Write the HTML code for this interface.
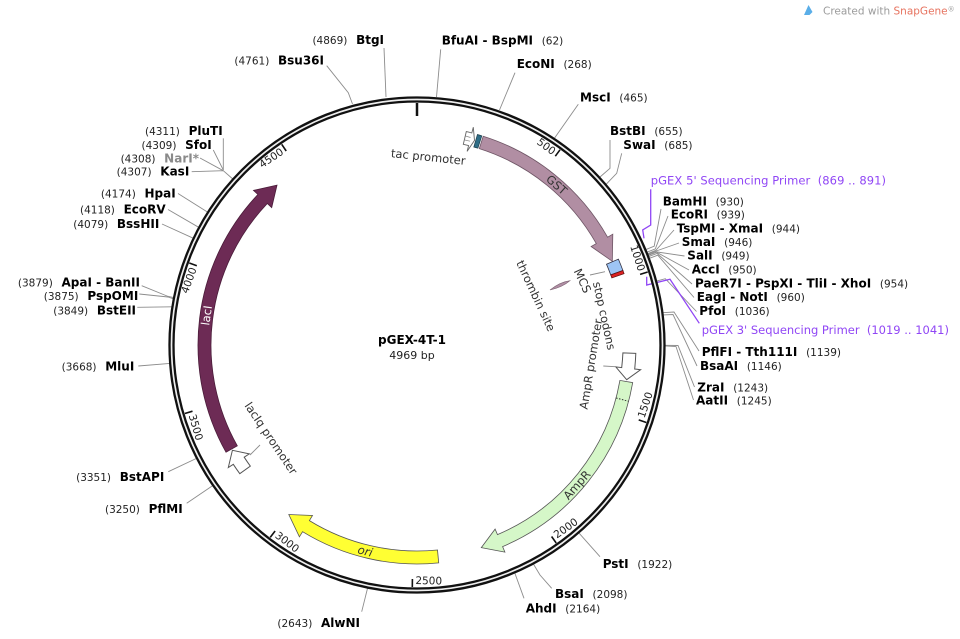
<!DOCTYPE html>
<html><head><meta charset="utf-8"><style>
html,body{margin:0;padding:0;background:#fff;}
svg{display:block;}
text{font-family:"DejaVu Sans","Liberation Sans",sans-serif;}
.n{font-size:10.5px;fill:#222;font-weight:normal;}
.b{font-size:12px;font-weight:bold;fill:#000;}
.g{font-size:12px;font-weight:bold;fill:#8a8a8a;}
.f{font-size:11.5px;fill:#333;}
.t{font-size:10.5px;fill:#222;}
.p{font-size:11.5px;fill:#9046f5;}
.ln{fill:none;stroke:#8c8c8c;stroke-width:0.9;}
.pl{fill:none;stroke:#9046f5;stroke-width:1.3;}
</style></head><body>
<svg width="960" height="639" viewBox="0 0 960 639" xmlns="http://www.w3.org/2000/svg">
<rect width="960" height="639" fill="#fff"/>

<!-- credit -->
<polygon points="804,15 808.5,5 812.5,12 809.5,15" fill="#5aaee8"/>
<text x="823" y="14.5" font-size="10.5" fill="#9b9b9b">Created with <tspan fill="#e7735f">SnapGene</tspan><tspan font-size="7" dy="-3">®</tspan></text>

<!-- leader lines -->
<polyline class="ln" points="384,48 386,97"/>
<polyline class="ln" points="326.7,65.7 348.3,92.7 352.5,104"/>
<polyline class="ln" points="440.7,49.3 436.5,97"/>
<polyline class="ln" points="515,72.7 499.5,110"/>
<polyline class="ln" points="578.3,104.3 554.6,138"/>
<polyline class="ln" points="610,140 610,168.3 600,177"/>
<polyline class="ln" points="621.7,153.3 616.7,173.3 606,184.4"/>

<polyline class="ln" points="661,209 654.2,246.2 645.9,249.6"/>
<polyline class="ln" points="668,216 655.3,248.9 647,252.2"/>
<polyline class="ln" points="674,230 655.9,250.3 647.6,253.7"/>
<polyline class="ln" points="679,243 656.2,251 647.8,254.3"/>
<polyline class="ln" points="684.5,256 656.5,251.9 648.2,255.2"/>
<polyline class="ln" points="689,270 656.6,252.2 648.3,255.4"/>
<polyline class="ln" points="692,284 657.1,253.4 648.7,256.6"/>
<polyline class="ln" points="694,297.5 657.8,255.2 649.4,258.3"/>
<polyline class="ln" points="696.5,311.5 665.3,278.7 656.6,281.1"/>
<polyline class="ln" points="699,351 674,312 662.9,312.7"/>
<polyline class="ln" points="697,366 673,314.5 663.2,314.9"/>
<polyline class="ln" points="694.5,387 678,345.5 665,345.3"/>
<polyline class="ln" points="693.5,400 676,346.5 665,345.9"/>

<polyline class="ln" points="600,556.7 578.9,532.9"/>
<polyline class="ln" points="551.7,588.3 540,575 533.4,564"/>
<polyline class="ln" points="524,598.3 514.8,573"/>
<polyline class="ln" points="361.7,611.7 367.6,588"/>

<polyline class="ln" points="138.3,366 169.7,363.4"/>
<polyline class="ln" points="168.3,471.7 196.5,458.4"/>
<polyline class="ln" points="186.7,503.3 212.7,485.6"/>
<polyline class="ln" points="137.3,307.3 172,306.8"/>
<polyline class="ln" points="139.3,294 168,297 173.3,298.8"/>
<polyline class="ln" points="141.7,285.7 167,296 173.6,297.6"/>
<polyline class="ln" points="162,224 193.2,238.2"/>
<polyline class="ln" points="168,209.5 198.7,227.3"/>
<polyline class="ln" points="178,193.5 207.6,212.1"/>
<polyline class="ln" points="191.7,171.7 223.3,170.7 232.8,179"/>
<polyline class="ln" points="200,158 223.3,170.7"/>
<polyline class="ln" points="213.3,150 223.3,170"/>
<polyline class="ln" points="223.3,138.3 223.3,170"/>

<!-- primer brackets -->
<polyline class="pl" points="650.7,189.3 650.7,225 642.7,230 644,238.3"/>
<polyline class="pl" points="646.7,276.7 646.7,285 670,279.3 699.3,323.3"/>

<!-- backbone -->
<circle cx="417" cy="345" r="245.5" fill="none" stroke="#111" stroke-width="6.3"/>
<circle cx="417" cy="345" r="245.5" fill="none" stroke="#eeeeee" stroke-width="1.7"/>

<!-- ticks -->
<g stroke="#111" stroke-width="1.6">
<line x1="417" y1="103" x2="417" y2="116" stroke-width="2.5"/>
<line x1="560.0" y1="149.8" x2="555.3" y2="156.2"/>
<line x1="647.7" y1="272.0" x2="640.1" y2="274.4"/>
<line x1="646.3" y1="422.5" x2="638.7" y2="419.9"/>
<line x1="556.2" y1="543.0" x2="551.6" y2="536.5"/>
<line x1="412.3" y1="587.0" x2="412.4" y2="579.0"/>
<line x1="270.2" y1="537.4" x2="275.1" y2="531.0"/>
<line x1="184.9" y1="413.5" x2="192.5" y2="411.2"/>
<line x1="189.3" y1="263.0" x2="196.8" y2="265.7"/>
<line x1="281.7" y1="144.3" x2="286.2" y2="151.0"/>
</g>

<!-- tick labels -->
<g class="t">
<g transform="translate(417 345) rotate(36.225) translate(0 -236)"><text class="t" x="-3" text-anchor="end" dominant-baseline="central">500</text></g>
<g transform="translate(417 345) rotate(72.449) translate(0 -236)"><text class="t" x="-3" text-anchor="end" dominant-baseline="central">1000</text></g>
<g transform="translate(417 345) rotate(108.674) translate(0 -236) rotate(180)"><text class="t" x="3" text-anchor="start" dominant-baseline="central">1500</text></g>
<g transform="translate(417 345) rotate(144.898) translate(0 -236) rotate(180)"><text class="t" x="3" text-anchor="start" dominant-baseline="central">2000</text></g>
<g transform="translate(417 345) rotate(181.123) translate(0 -236) rotate(180)"><text class="t" x="3" text-anchor="start" dominant-baseline="central">2500</text></g>
<g transform="translate(417 345) rotate(217.347) translate(0 -236) rotate(180)"><text class="t" x="3" text-anchor="start" dominant-baseline="central">3000</text></g>
<g transform="translate(417 345) rotate(253.572) translate(0 -236) rotate(180)"><text class="t" x="3" text-anchor="start" dominant-baseline="central">3500</text></g>
<g transform="translate(417 345) rotate(289.797) translate(0 -236)"><text class="t" x="-3" text-anchor="end" dominant-baseline="central">4000</text></g>
<g transform="translate(417 345) rotate(326.021) translate(0 -236)"><text class="t" x="-3" text-anchor="end" dominant-baseline="central">4500</text></g>
</g>

<!-- features -->
<path d="M483.2,136.2 A219,219 0 0 1 607.6,237.2 L612.8,234.2 L612.3,261.3 L591.1,246.5 L596.3,243.6 A206,206 0 0 0 479.3,148.6 Z" fill="#b18ea3" stroke="#6e5565" stroke-width="0.8"/>
<path d="M226.0,452.2 A219,219 0 0 1 257.9,194.5 L253.5,190.4 L277.0,185.1 L271.7,207.6 L267.3,203.5 A206,206 0 0 0 237.3,445.8 Z" fill="#6d2b55" stroke="#4a1c39" stroke-width="0.8"/>
<path d="M632.7,382.6 A219,219 0 0 1 502.6,546.6 L504.9,552.1 L481.3,547.6 L495.1,529.1 L497.5,534.6 A206,206 0 0 0 619.9,380.4 Z" fill="#d5f7c8" stroke="#555" stroke-width="0.8"/>
<path d="M616.1,398 L628.6,401.3" stroke="#333" stroke-width="1" stroke-dasharray="1.5 1.5"/>
<path d="M438.7,562.9 A219,219 0 0 1 302.6,531.7 L299.4,536.8 L288.8,514.5 L312.5,515.5 L309.4,520.6 A206,206 0 0 0 437.5,550.0 Z" fill="#ffff33" stroke="#555" stroke-width="0.8"/>
<path d="M635.8,353.4 A219,219 0 0 1 634.7,369.0 L640.6,369.7 L626.7,379.7 L615.8,366.9 L621.7,367.6 A206,206 0 0 0 622.9,352.9 Z" fill="#fff" stroke="#555" stroke-width="1"/>
<path d="M239.8,473.7 A219,219 0 0 1 233.3,464.3 L228.3,467.5 L232.4,450.3 L249.3,453.9 L244.2,457.2 A206,206 0 0 0 250.3,466.1 Z" fill="#fff" stroke="#555" stroke-width="1"/>
<path d="M466.3,131.6 A219,219 0 0 1 471.8,133.0 L473.3,127.2 L474.5,140.4 L467.1,151.4 L468.6,145.6 A206,206 0 0 0 463.3,144.3 Z" fill="#fff" stroke="#666" stroke-width="0.9"/>
<path d="M465.5,136 L470.5,137.5 M464.8,140 L470,141.2" stroke="#888" stroke-width="0.7"/>
<path d="M477.4,134.5 A219,219 0 0 1 481.8,135.8 L477.9,148.2 A206,206 0 0 0 473.8,147.0 Z" fill="#2f6d86" stroke="#1d3f4d" stroke-width="0.7"/>
<path d="M618.4,259.1 A219,219 0 0 1 622.9,270.5 L610.7,274.9 A206,206 0 0 0 606.5,264.2 Z" fill="#9ec5f5" stroke="#334" stroke-width="0.8"/>
<path d="M622.9,270.5 A219,219 0 0 1 624.1,273.7 L611.8,277.9 A206,206 0 0 0 610.7,274.9 Z" fill="#dd2222" stroke="#511" stroke-width="0.7"/>
<path d="M550,290 Q560,282 570,280.7 Q562,287.5 550,290 Z" fill="#b08ea4" stroke="#7a6070" stroke-width="0.6"/>

<!-- feature leader lines -->
<line x1="590" y1="275" x2="605" y2="271.7" stroke="#8c8c8c" stroke-width="0.9"/>
<line x1="603.3" y1="366" x2="615" y2="366.7" stroke="#8c8c8c" stroke-width="0.9"/>
<line x1="250" y1="455" x2="260" y2="445" stroke="#8c8c8c" stroke-width="0.9"/>

<!-- band labels -->
<g transform="translate(417 345) rotate(41.1) translate(0 -212.5)"><text class="f" text-anchor="middle" dominant-baseline="central" fill="#333">GST</text></g>
<g transform="translate(417 345) rotate(278) translate(0 -212.5)"><text class="f" text-anchor="middle" dominant-baseline="central" style="fill:#fff">lacI</text></g>
<g transform="translate(417 345) rotate(131.2) translate(0 -212.5) rotate(180)"><text class="f" text-anchor="middle" dominant-baseline="central">AmpR</text></g>
<g transform="translate(417 345) rotate(194.1) translate(0 -212.5) rotate(180)"><text class="f" text-anchor="middle" dominant-baseline="central" font-style="italic">ori</text></g>

<!-- feature labels -->
<text class="f" transform="translate(428.3 157) rotate(6)" text-anchor="middle" dominant-baseline="central">tac promoter</text>
<text class="f" transform="translate(535.8 295.8) rotate(65)" text-anchor="middle" dominant-baseline="central">thrombin site</text>
<text class="f" transform="translate(582.5 280.8) rotate(65)" text-anchor="middle" dominant-baseline="central">MCS</text>
<text class="f" transform="translate(604.2 315.8) rotate(77.6)" text-anchor="middle" dominant-baseline="central">stop codons</text>
<text class="f" transform="translate(590.8 364.2) rotate(-80.7)" text-anchor="middle" dominant-baseline="central">AmpR promoter</text>
<text class="f" transform="translate(271 438.3) rotate(56)" text-anchor="middle" dominant-baseline="central">lacIq promoter</text>

<!-- center -->
<text x="412" y="344" text-anchor="middle" font-size="12" font-weight="bold" fill="#000">pGEX-4T-1</text>
<text x="412" y="359" text-anchor="middle" font-size="11" fill="#222">4969 bp</text>

<!-- top labels -->
<text x="384" y="44" text-anchor="end"><tspan class="n">(4869)</tspan><tspan class="b" dx="8.7">BtgI</tspan></text>
<text x="324" y="64.5" text-anchor="end"><tspan class="n">(4761)</tspan><tspan class="b" dx="8.7">Bsu36I</tspan></text>
<text x="441.7" y="44.5"><tspan class="b">BfuAI - BspMI</tspan><tspan class="n" dx="8.7">(62)</tspan></text>
<text x="516.7" y="68"><tspan class="b">EcoNI</tspan><tspan class="n" dx="8.7">(268)</tspan></text>
<text x="580" y="101.5"><tspan class="b">MscI</tspan><tspan class="n" dx="8.7">(465)</tspan></text>
<text x="610" y="135"><tspan class="b">BstBI</tspan><tspan class="n" dx="8.7">(655)</tspan></text>
<text x="623.3" y="149"><tspan class="b">SwaI</tspan><tspan class="n" dx="8.7">(685)</tspan></text>

<!-- right labels -->
<text class="p" x="650.7" y="184.5" textLength="235.3" lengthAdjust="spacing">pGEX 5' Sequencing Primer&#160;&#160;(869 .. 891)</text>
<text x="662.7" y="205.5"><tspan class="b">BamHI</tspan><tspan class="n" dx="8.7">(930)</tspan></text>
<text x="670.7" y="218.7"><tspan class="b">EcoRI</tspan><tspan class="n" dx="8.7">(939)</tspan></text>
<text x="676.7" y="232.5"><tspan class="b">TspMI - XmaI</tspan><tspan class="n" dx="8.7">(944)</tspan></text>
<text x="681.7" y="246"><tspan class="b">SmaI</tspan><tspan class="n" dx="8.7">(946)</tspan></text>
<text x="687.3" y="259.5"><tspan class="b">SalI</tspan><tspan class="n" dx="8.7">(949)</tspan></text>
<text x="691.7" y="273.5"><tspan class="b">AccI</tspan><tspan class="n" dx="8.7">(950)</tspan></text>
<text x="695" y="287.5"><tspan class="b">PaeR7I - PspXI - TliI - XhoI</tspan><tspan class="n" dx="8.7">(954)</tspan></text>
<text x="696.7" y="301"><tspan class="b">EagI - NotI</tspan><tspan class="n" dx="8.7">(960)</tspan></text>
<text x="699.3" y="315"><tspan class="b">PfoI</tspan><tspan class="n" dx="8.7">(1036)</tspan></text>
<text class="p" x="701.7" y="334" textLength="247.3" lengthAdjust="spacing">pGEX 3' Sequencing Primer&#160;&#160;(1019 .. 1041)</text>
<text x="701.7" y="356"><tspan class="b">PflFI - Tth111I</tspan><tspan class="n" dx="8.7">(1139)</tspan></text>
<text x="700" y="370"><tspan class="b">BsaAI</tspan><tspan class="n" dx="8.7">(1146)</tspan></text>
<text x="697.3" y="391.5"><tspan class="b">ZraI</tspan><tspan class="n" dx="8.7">(1243)</tspan></text>
<text x="696" y="404.5"><tspan class="b">AatII</tspan><tspan class="n" dx="8.7">(1245)</tspan></text>

<!-- bottom labels -->
<text x="602.7" y="568"><tspan class="b">PstI</tspan><tspan class="n" dx="8.7">(1922)</tspan></text>
<text x="555" y="598"><tspan class="b">BsaI</tspan><tspan class="n" dx="8.7">(2098)</tspan></text>
<text x="525.7" y="612.5"><tspan class="b">AhdI</tspan><tspan class="n" dx="8.7">(2164)</tspan></text>
<text x="360" y="627" text-anchor="end"><tspan class="n">(2643)</tspan><tspan class="b" dx="8.7">AlwNI</tspan></text>

<!-- left labels -->
<text x="182.7" y="513" text-anchor="end"><tspan class="n">(3250)</tspan><tspan class="b" dx="8.7">PflMI</tspan></text>
<text x="164.3" y="481" text-anchor="end"><tspan class="n">(3351)</tspan><tspan class="b" dx="8.7">BstAPI</tspan></text>
<text x="134.3" y="370.5" text-anchor="end"><tspan class="n">(3668)</tspan><tspan class="b" dx="8.7">MluI</tspan></text>
<text x="136" y="314.3" text-anchor="end"><tspan class="n">(3849)</tspan><tspan class="b" dx="8.7">BstEII</tspan></text>
<text x="138.3" y="300" text-anchor="end"><tspan class="n">(3875)</tspan><tspan class="b" dx="8.7">PspOMI</tspan></text>
<text x="140" y="286.7" text-anchor="end"><tspan class="n">(3879)</tspan><tspan class="b" dx="8.7">ApaI - BanII</tspan></text>
<text x="159.3" y="228" text-anchor="end"><tspan class="n">(4079)</tspan><tspan class="b" dx="8.7">BssHII</tspan></text>
<text x="165.7" y="213.5" text-anchor="end"><tspan class="n">(4118)</tspan><tspan class="b" dx="8.7">EcoRV</tspan></text>
<text x="175.7" y="197.4" text-anchor="end"><tspan class="n">(4174)</tspan><tspan class="b" dx="8.7">HpaI</tspan></text>
<text x="189.3" y="175.7" text-anchor="end"><tspan class="n">(4307)</tspan><tspan class="b" dx="8.7">KasI</tspan></text>
<text x="199" y="162.3" text-anchor="end"><tspan class="n">(4308)</tspan><tspan class="g" dx="8.7">NarI*</tspan></text>
<text x="211.7" y="149" text-anchor="end"><tspan class="n">(4309)</tspan><tspan class="b" dx="8.7">SfoI</tspan></text>
<text x="222.7" y="135" text-anchor="end"><tspan class="n">(4311)</tspan><tspan class="b" dx="8.7">PluTI</tspan></text>
</svg>
</body></html>
